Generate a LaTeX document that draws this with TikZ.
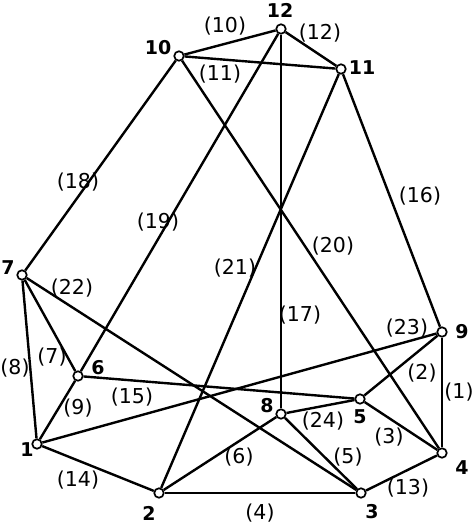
\documentclass[tikz,border=0pt]{standalone}
\usepackage{fontspec}
\setmainfont{DejaVu Sans}
\usetikzlibrary{calc}

\tikzset{vtx/.style={circle, draw, fill=white, inner sep=0pt, minimum size=9.5pt, line width=1.7pt},
 edge/.style={line width=2.4pt},
 vlab/.style={font=\fontsize{19}{20}\selectfont\bfseries, inner sep=0pt},
 elab/.style={font=\fontsize{20.5}{22}\selectfont, inner sep=0pt}}

\begin{document}
\begin{tikzpicture} [x=1pt,y=-1pt]
\useasboundingbox (0,0) rectangle (474,524);
% vertices
\foreach \n/\x/\y in {1/37/444, 2/159/493, 3/361/493, 4/442/453, 5/360/399, 6/78/376,
 7/22/275, 8/281/414, 9/442/332, 10/179/56, 11/341/69, 12/281/29}
 \node[vtx] (v\n) at (\x,\y) {};
% edges
\foreach \a/\b in {9/4, 9/5, 5/4, 2/3, 8/3, 2/8, 7/6, 7/1, 6/1, 10/12, 10/11, 12/11,
 3/4, 1/2, 6/5, 11/9, 12/8, 10/7, 12/6, 10/4, 11/2, 7/3, 1/9, 8/5}
 \draw[edge] (v\a) -- (v\b);
% vertex numbers
\foreach \n/\x/\y in {1/27/450, 2/149/513, 3/372/512, 4/462/468, 5/360/417, 6/98/368,
 7/8/268, 8/267/406, 9/462/332, 10/158/48, 11/362/68, 12/280/10}
 \node[vlab] (t\n) at (\x,\y) {\n};
% edge numbers
\foreach \n/\x/\y in {1/459/392, 2/422/373, 3/389/437, 4/260/513, 5/348/457, 6/239/457,
 7/52/357, 8/15/368, 9/78/408, 10/225/26, 11/220/74, 12/320/33, 13/408/488, 14/78/480,
 15/132/397, 16/420/196, 17/300/315, 18/78/182, 19/158/222, 20/333/246, 21/235/268,
 22/72/288, 23/407/328, 24/323/421}
 \node[elab] (e\n) at (\x,\y) {(\n)};
\end{tikzpicture}
\end{document}
